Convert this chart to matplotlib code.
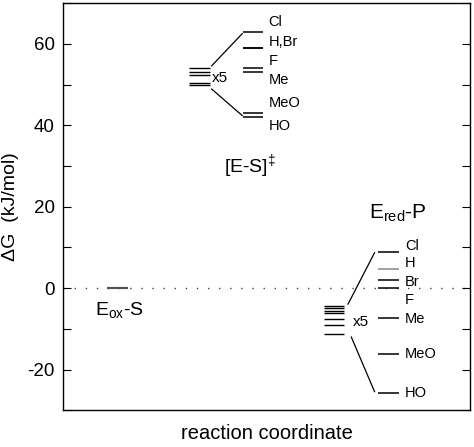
import matplotlib
matplotlib.use("Agg")
import matplotlib.pyplot as plt

plt.rcParams.update({
    "font.family": ["Liberation Sans", "DejaVu Sans"],
    "mathtext.fontset": "custom",
    "mathtext.rm": "Liberation Sans",
    "mathtext.it": "Liberation Sans:italic",
    "mathtext.bf": "Liberation Sans:bold",
})

# ── data (kJ/mol) ──────────────────────────────────────────────────────────
EOX_LEVEL = 0.0

ES_CLUSTER = [54.0, 53.2, 52.4, 50.4, 50.0]
ES_LEVELS = [62.8, 58.9, 58.9, 54.1, 53.1, 42.9, 42.1]
ES_LABELS = ["Cl", "H,Br", "F", "Me", "MeO", "HO"]
ES_LABEL_Y = [65.3, 60.5, 55.7, 51.1, 45.5, 39.8]
ES_FAN = [(54.6, 62.5), (48.9, 42.4)]

RED_CLUSTER = [-4.3, -4.9, -5.6, -6.2, -7.5, -9.0, -11.2]
RED_SUBST = ["Cl", "H", "Br", "F", "Me", "MeO", "HO"]
RED_LEVELS = [9.0, 4.7, 2.0, 0.0, -7.4, -16.2, -25.8]
RED_LABEL_Y = [10.4, 6.1, 1.6, -2.9, -7.5, -16.2, -25.8]
RED_FAN = [(-3.9, 8.7), (-12.0, -25.4)]

YTICKS = list(range(-30, 71, 10))
YTICKLABELS = [str(t) if t % 20 == 0 else "" for t in YTICKS]

# ── layout on the reaction coordinate (arbitrary units 0-10) ────────────────
EOX_X = (1.07, 1.60)
ES_CL_X = (3.10, 3.61)
ES_LV_X = (4.42, 4.91)
ES_FAN_X = (3.65, 4.40)
RED_CL_X = (6.40, 6.90)
RED_LV_X = (7.73, 8.24)
RED_FAN_X = [(7.00, 7.65), (7.08, 7.65)]

fig = plt.figure(figsize=(4.74, 4.47), dpi=100)
ax = fig.add_axes([0.133, 0.082, 0.859, 0.911])

ax.axhline(0, color="#444444", linewidth=1.0, linestyle=(0, (1, 7)), zorder=1)

# E_ox-S
ax.hlines(EOX_LEVEL, *EOX_X, color="#555555", linewidth=1.6)
ax.text(1.38, -6.6, r"E$_{\mathrm{ox}}$-S", fontsize=14, ha="center", va="baseline")

# [E-S]‡
ax.hlines(ES_CLUSTER, *ES_CL_X, color="black", linewidth=1.0)
ax.hlines(ES_LEVELS, *ES_LV_X, color="black", linewidth=1.1)
for y0, y1 in ES_FAN:
    ax.plot(ES_FAN_X, [y0, y1], color="black", linewidth=0.9)
ax.text(3.86, 51.7, "x5", fontsize=11, ha="center", va="center")
for lab, y in zip(ES_LABELS, ES_LABEL_Y):
    ax.text(5.04, y, lab, fontsize=10.5, ha="left", va="center")
ax.text(4.59, 28.5, r"[E-S]$^{\ddag}$", fontsize=14, ha="center", va="baseline")

# E_red-P
ax.hlines(RED_CLUSTER, *RED_CL_X, color="black", linewidth=1.0)
colors = ["#888888" if s == "H" else "black" for s in RED_SUBST]
ax.hlines(RED_LEVELS, *RED_LV_X, colors=colors, linewidth=1.1)
for (y0, y1), xs in zip(RED_FAN, RED_FAN_X):
    ax.plot(xs, [y0, y1], color="black", linewidth=0.9)
ax.text(7.32, -8.2, "x5", fontsize=11, ha="center", va="center")
for lab, y in zip(RED_SUBST, RED_LABEL_Y):
    ax.text(8.40, y, lab, fontsize=10.5, ha="left", va="center")
ax.text(7.52, 17.0, r"E$_{\mathrm{red}}$-P", fontsize=15, ha="left", va="baseline")

ax.set_xlim(0, 10)
ax.set_ylim(-30, 70)
ax.set_xticks([])
ax.set_yticks(YTICKS)
ax.set_yticklabels(YTICKLABELS, fontsize=13.5)
ax.tick_params(axis="y", direction="in", length=6, width=0.8, right=True, pad=6)
for sp in ax.spines.values():
    sp.set_linewidth(1.0)
ax.set_ylabel("ΔG  (kJ/mol)", fontsize=14, labelpad=6)
ax.set_xlabel("reaction coordinate", fontsize=14.5, labelpad=10)

fig.savefig("out.png", dpi=100)
